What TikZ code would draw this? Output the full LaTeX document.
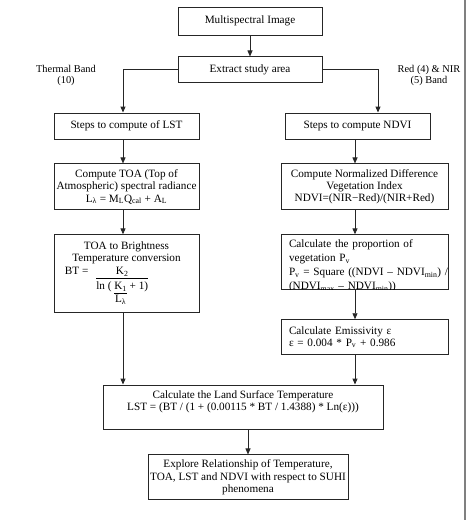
\documentclass[tikz,border=0pt]{standalone}
\usepackage{fontspec}
\setmainfont{Liberation Serif}
\usetikzlibrary{positioning,arrows.meta}
\tikzset{
  bx/.style={draw=black!85, line width=0.9pt, font=\fontsize{11.2}{12.2}\selectfont, align=center, inner sep=2pt},
  lb/.style={font=\fontsize{10.4}{11.5}\selectfont, align=center},
  fl/.style={-{Triangle[length=6pt,width=5pt]}, line width=0.9pt, black!85},
}

\begin{document}
\begin{tikzpicture}[x=1pt,y=1pt]
\useasboundingbox (0,0) rectangle (474,-520);
\draw[gray, line width=1.6pt] (465,0) -- (465,-520);
\node[bx, minimum width=144pt, minimum height=28pt] (img) at (250,-21) {Multispectral Image};
\node[bx, minimum width=144pt, minimum height=26pt, below=21pt of img] (ext) {Extract study area};
\node[lb] (thb) at (66,-75.5) {Thermal Band\\(10)};
\node[lb] (rnb) at (429,-75.5) {Red (4) \& NIR\\(5) Band};
\node[bx, minimum width=145pt, minimum height=26pt] (lst) at (126.5,-126) {Steps to compute of LST};
\node[bx, minimum width=145pt, minimum height=26pt] (ndvi) at (357.5,-126) {Steps to compute NDVI};
\node[bx, minimum width=145pt, minimum height=46pt, below=24pt of lst] (toa) {Compute TOA (Top of\\Atmospheric) spectral radiance\\L\textsubscript{λ} = M\textsubscript{L}Q\textsubscript{cal} + A\textsubscript{L}};
\node[bx, minimum width=145pt, minimum height=78pt, below=24pt of toa] (bt) {TOA to Brightness\\Temperature conversion\\[1pt]
  BT =\hspace{8pt}\begin{tabular}[t]{@{}c@{}}K\textsubscript{2}\\\hline\rule{0pt}{11pt}ln ( \begin{tabular}[t]{@{}c@{}}K\textsubscript{1}\\\hline L\textsubscript{λ}\end{tabular} + 1)\end{tabular}\hspace*{40pt}};
\node[bx, minimum width=167pt, minimum height=46pt, below=24pt of ndvi, xshift=7pt] (ndvic) {Compute Normalized Difference\\Vegetation Index\\NDVI=(NIR−Red)/(NIR+Red)};
\node[bx, minimum width=167pt, minimum height=55pt, below=24pt of ndvic] (pv) {};
\begin{scope}
\clip ([yshift=0.5pt]pv.south west) rectangle (pv.north east);
\node[bx, draw=none, anchor=north west, text width=165pt, align=left, inner xsep=8pt, inner ysep=5pt, font=\fontsize{11.2}{14}\selectfont] (pvt) at (pv.north west) {Calculate the proportion of\\vegetation P\textsubscript{v}\\P\textsubscript{v} = Square ((NDVI – NDVI\textsubscript{min}) /\\(NDVI\textsubscript{max} – NDVI\textsubscript{min}))};
\end{scope}
\node[bx, minimum height=35pt, text width=151pt, inner xsep=8pt, align=left, below=29pt of pv] (emis) {Calculate Emissivity ε\\ε = 0.004 * P\textsubscript{v} + 0.986};
\node[bx, minimum width=280pt, minimum height=44pt] (lstc) at (243,-407) {Calculate the Land Surface Temperature\\LST = (BT / (1 + (0.00115 * BT / 1.4388) * Ln(ε)))\\\vphantom{X}};
\node[bx, minimum width=200pt, minimum height=45pt, below=25pt of lstc, xshift=5pt] (expl) {Explore Relationship of Temperature,\\TOA, LST and NDVI with respect to SUHI\\phenomena};
\draw[fl] (img) -- (ext);
\draw[fl] (ext.west) -| ([xshift=-3.5pt]lst.north);
\draw[fl] (ext.east) -| ([xshift=20.5pt]ndvi.north);
\draw[fl] ([xshift=-3.5pt]lst.south) -- ([xshift=-3.5pt]toa.north);
\draw[fl] ([xshift=-3.5pt]toa.south) -- ([xshift=-3.5pt]bt.north);
\draw[fl] ([xshift=-3.5pt]bt.south) -- ([xshift=-3.5pt]bt.south |- lstc.north);
\draw[fl] ([xshift=-2.5pt]ndvi.south) -- ([xshift=-2.5pt]ndvi.south |- ndvic.north);
\draw[fl] ([xshift=-2.5pt]ndvi.south |- ndvic.south) -- ([xshift=-2.5pt]ndvi.south |- pv.north);
\draw[fl] ([xshift=-2.5pt]ndvi.south |- pv.south) -- ([xshift=-2.5pt]ndvi.south |- emis.north);
\draw[fl] ([xshift=-2.5pt]ndvi.south |- emis.south) -- ([xshift=-2.5pt]ndvi.south |- lstc.north);
\draw[fl] (expl.north |- lstc.south) -- (expl.north);
\end{tikzpicture}
\end{document}
